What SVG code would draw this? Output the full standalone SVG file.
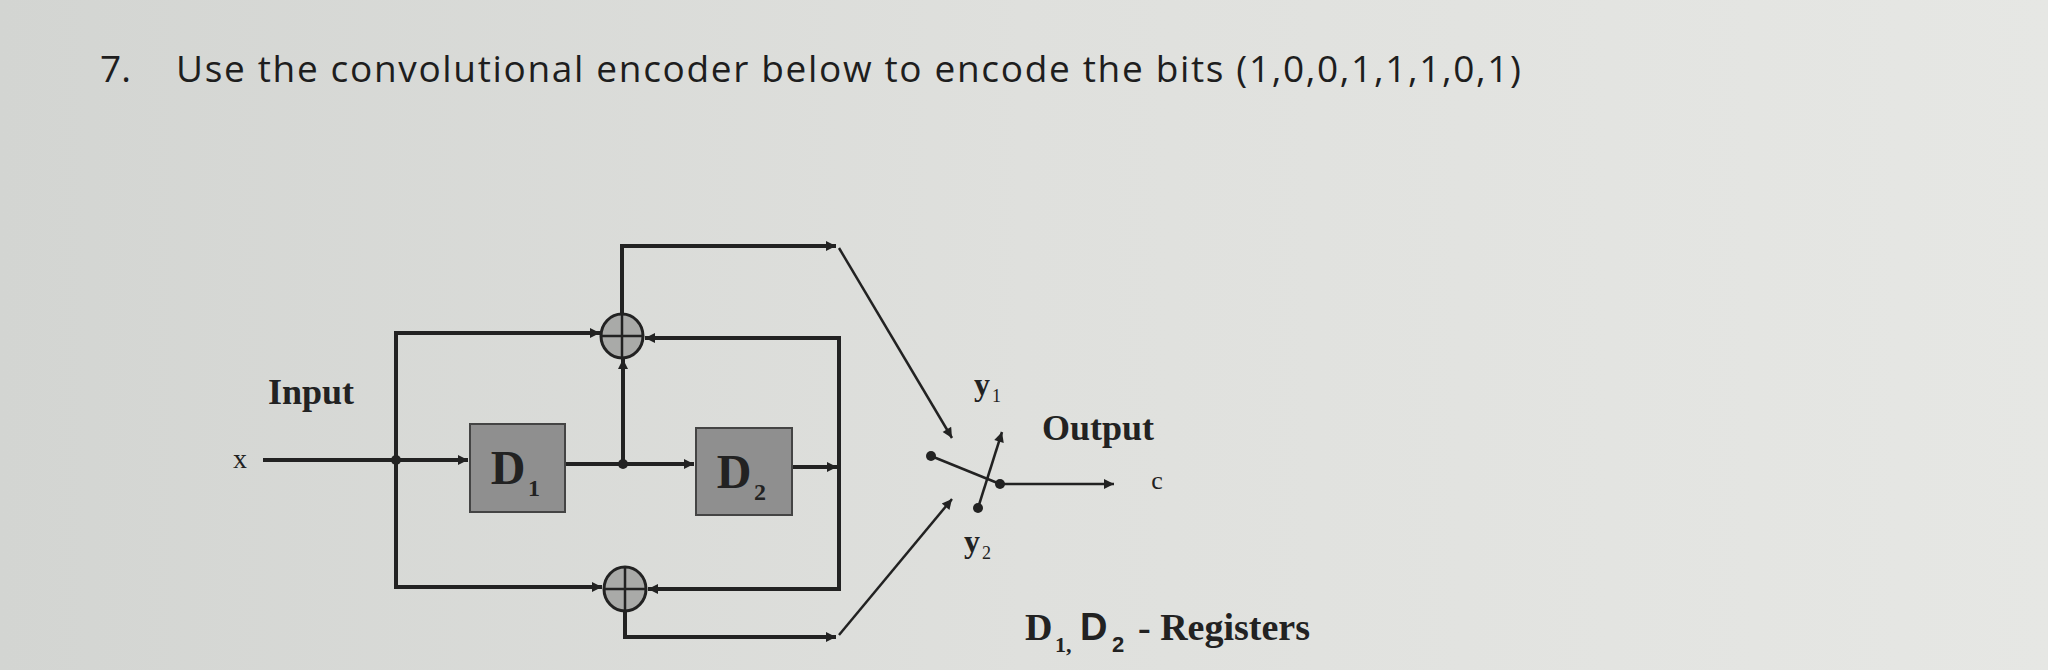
<svg xmlns="http://www.w3.org/2000/svg" width="2048" height="670" viewBox="0 0 2048 670">
<defs>
<linearGradient id="bg" x1="0" y1="0" x2="1" y2="0"><stop offset="0" stop-color="#d3d5d2"/><stop offset="0.5" stop-color="#dfe0dd"/><stop offset="1" stop-color="#e6e7e4"/></linearGradient>
<marker id="a2" viewBox="0 0 10 10" refX="10" refY="5" markerWidth="14" markerHeight="10" orient="auto" markerUnits="userSpaceOnUse"><path d="M0,0 L10,5 L0,10 z" fill="#222"/></marker>
</defs>
<style>
.w{fill:none;stroke:#222;stroke-width:4}
.t{fill:none;stroke:#222;stroke-width:2.5}
.tx{font-family:"Liberation Serif",serif;fill:#222}
.box{fill:#8f8f8f;stroke:#444;stroke-width:2}
.add{fill:#a9aaa8;stroke:#222;stroke-width:3}
</style>
<rect width="2048" height="670" fill="url(#bg)"/>
<text x="100" y="82" font-family="'Open Sans','Liberation Sans',sans-serif" font-size="37" fill="#1e1e1e">7.</text>
<text x="176" y="82" font-family="'Open Sans','Liberation Sans',sans-serif" font-size="37" fill="#1e1e1e" textLength="1345">Use the convolutional encoder below to encode the bits (1,0,0,1,1,1,0,1)</text>
<g id="connectors">
<path class="w" d="M263,460 H468" marker-end="url(#a2)"/>
<path class="w" d="M396,460 V333 H600" marker-end="url(#a2)"/>
<path class="w" d="M396,460 V587 H602" marker-end="url(#a2)"/>
<path class="w" d="M565,464 H694" marker-end="url(#a2)"/>
<path class="w" d="M623,464 V359" marker-end="url(#a2)"/>
<path class="w" d="M622,315 V246 H836" marker-end="url(#a2)"/>
<path class="w" d="M792,467 H837" marker-end="url(#a2)"/>
<path class="w" d="M839,336 V591"/>
<path class="w" d="M839,338 H645" marker-end="url(#a2)"/>
<path class="w" d="M839,589 H648" marker-end="url(#a2)"/>
<path class="w" d="M625,610 V637 H836" marker-end="url(#a2)"/>
<path class="t" d="M839,248 L952,438" marker-end="url(#a2)"/>
<path class="t" d="M839,635 L952,499" marker-end="url(#a2)"/>
<path class="t" d="M931,456 L1000,484"/>
<path class="t" d="M1000,484 H1114" marker-end="url(#a2)"/>
<path class="t" d="M978,508 L1002,432" marker-end="url(#a2)"/>
<circle cx="396" cy="460" r="5" fill="#222"/>
<circle cx="623" cy="464" r="5" fill="#222"/>
<circle cx="931" cy="456" r="5" fill="#222"/>
<circle cx="1000" cy="484" r="5" fill="#222"/>
<circle cx="978" cy="508" r="5" fill="#222"/>
</g>
<g id="D1"><rect class="box" x="470" y="424" width="95" height="88"/><text class="tx" x="508" y="484" font-size="48" font-weight="bold" text-anchor="middle">D</text><text class="tx" x="528" y="496" font-size="24" font-weight="bold">1</text></g>
<g id="D2"><rect class="box" x="696" y="428" width="96" height="87"/><text class="tx" x="734" y="488" font-size="48" font-weight="bold" text-anchor="middle">D</text><text class="tx" x="754" y="500" font-size="24" font-weight="bold">2</text></g>
<g id="adder1"><ellipse class="add" cx="622" cy="336" rx="21" ry="22"/><path class="t" d="M601,336 H643 M622,314 V358"/></g>
<g id="adder2"><ellipse class="add" cx="625" cy="589" rx="21" ry="22"/><path class="t" d="M604,589 H646 M625,567 V611"/></g>
<g id="labels">
<text class="tx" x="311" y="404" font-size="36" font-weight="bold" text-anchor="middle">Input</text>
<text class="tx" x="240" y="468" font-size="28" text-anchor="middle">x</text>
<text class="tx" x="982" y="395" font-size="32" font-weight="bold" text-anchor="middle">y</text><text class="tx" x="992" y="402" font-size="18">1</text>
<text class="tx" x="972" y="552" font-size="32" font-weight="bold" text-anchor="middle">y</text><text class="tx" x="982" y="559" font-size="18">2</text>
<text class="tx" x="1098" y="440" font-size="36" font-weight="bold" text-anchor="middle">Output</text>
<text class="tx" x="1157" y="489" font-size="26" text-anchor="middle">c</text>
</g>
<g id="legend">
<text class="tx" x="1025" y="640" font-size="38" font-weight="bold">D</text>
<text class="tx" x="1055" y="652" font-size="22" font-weight="bold">1,</text>
<text x="1080" y="640" font-size="38" font-weight="bold" font-family="'Liberation Sans',sans-serif" fill="#222">D</text>
<text x="1112" y="652" font-size="22" font-weight="bold" font-family="'Liberation Sans',sans-serif" fill="#222">2</text>
<text class="tx" x="1138" y="640" font-size="38" font-weight="bold">- Registers</text>
</g>
</svg>
